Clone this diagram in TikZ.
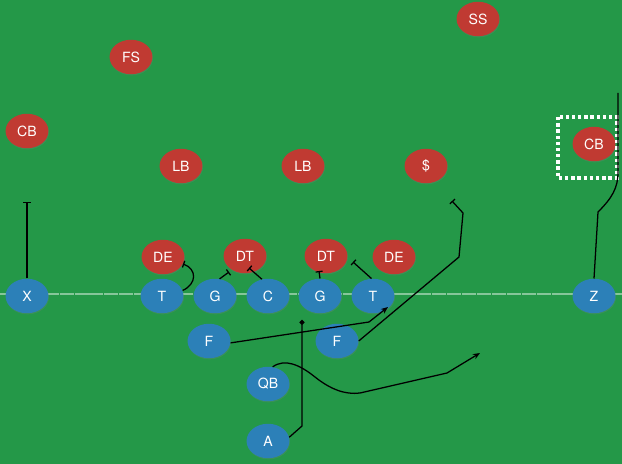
\documentclass[tikz,border=0pt]{standalone}
\usepackage{fontspec}
\setmainfont{TeX Gyre Heros}
\usetikzlibrary{arrows.meta,shapes.geometric,shadows}
\definecolor{turf}{RGB}{36,152,72}
\definecolor{defred}{RGB}{192,58,50}
\definecolor{offblue}{RGB}{44,128,184}
\tikzset{
player/.style={ellipse, minimum width=30.5pt, minimum height=24.5pt, inner sep=0pt,
  text=white, font=\fontsize{10}{10}\selectfont,
  drop shadow={opacity=.25, shadow xshift=.4pt, shadow yshift=-.8pt}},
defense/.style={player, fill=defred},
offense/.style={player, fill=offblue},
block/.style={-{Bar[width=5pt]}, line width=.9pt},
route/.style={-{Stealth[length=5pt,width=4pt]}, line width=.9pt}
}

\begin{document}
\begin{tikzpicture}[x=0.025cm, y=-0.025cm]
\fill[turf] (0,0) rectangle (622,464);
\useasboundingbox (0,0) rectangle (622,464);

% line of scrimmage
\draw[white, opacity=.45, line width=1.4pt, dash pattern=on 10pt off .6pt] (0,294) -- (622,294);

% defense
\node[defense] (SS) at (478,19) {SS};
\node[defense] (FS) at (131,57) {FS};
\node[defense] (LCB) at (27,131) {CB};
\node[defense] (RCB) at (594,144) {CB};
\node[defense] (LLB) at (181,166) {LB};
\node[defense] (MLB) at (303,166) {LB};
\node[defense] (S) at (426,166) {\$};
\node[defense] (LDE) at (163,257) {DE};
\node[defense] (LDT) at (245,256) {DT};
\node[defense] (RDT) at (326,256) {DT};
\node[defense] (RDE) at (394,257) {DE};

% offense
\node[offense] (X) at (27,296) {X};
\node[offense] (LT) at (162,296) {T};
\node[offense] (LG) at (215,296) {G};
\node[offense] (C) at (268,296) {C};
\node[offense] (RG) at (320,296) {G};
\node[offense] (RT) at (373,296) {T};
\node[offense] (Z) at (594,296) {Z};
\node[offense] (LF) at (209,341) {F};
\node[offense] (RF) at (337,341) {F};
\node[offense] (QB) at (268,384) {QB};
\node[offense] (A) at (268,441) {A};

% zone box
\draw[white, line width=2.4pt, dash pattern=on 2.4pt off 2pt] (558,117) rectangle (617,178);

% free ends
\coordinate (Xend) at (27,202);
\coordinate (LTend) at (183,264);
\coordinate (LGend) at (229,272);
\coordinate (Cend) at (249,268);
\coordinate (RGend) at (319,271);
\coordinate (RTend) at (353,262);
\coordinate (LFend) at (388,307);
\coordinate (RFend) at (452,201);
\coordinate (QBend) at (480,353);
\coordinate (Aend) at (302,320);
\coordinate (Zend) at (618,93);

% blocks
\draw[block] (X.north) -- (Xend);
\draw[block] (LT.15) .. controls (197,284) and (197,269) .. (LTend);
\draw[block] (LG.75) -- (LGend);
\draw[block] (C.110) -- (Cend);
\draw[block] (RG.north) -- (RGend);
\draw[block] (RT.95) -- (RTend);

% routes
\draw[route] (LF.-5) -- (369,322) -- (LFend);
\draw[block] (RF.east) -- (459,257) -- (463,213) -- (RFend);
\draw[route] (QB.75) .. controls (285,358) and (300,365) .. (315,377)
  .. controls (330,389) and (345,395) .. (360,393) -- (447,373) -- (QBend);
\draw[-{Circle[length=3.5pt]}, line width=.9pt] (A.10) -- (302,426) -- (Aend);
\draw[line width=.9pt] (Z.north) -- (598,212) .. controls (612,198) and (618,188) .. (618,172) -- (Zend);

\end{tikzpicture}
\end{document}
